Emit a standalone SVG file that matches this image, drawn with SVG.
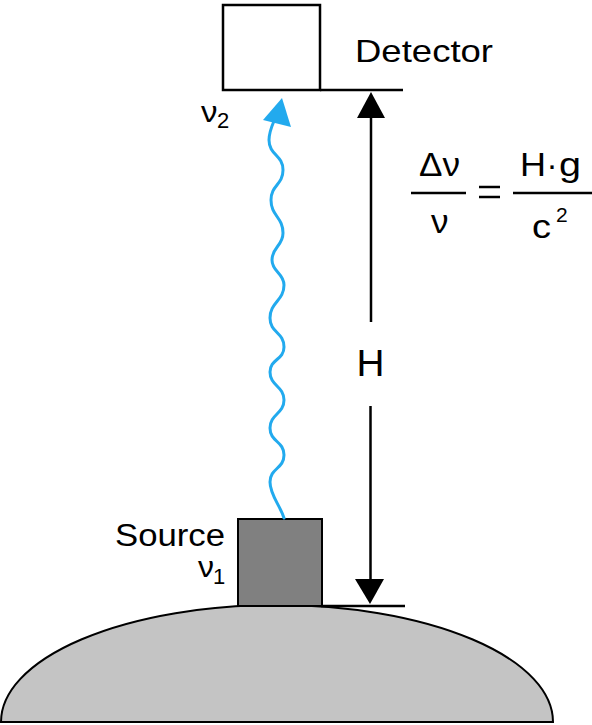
<svg xmlns="http://www.w3.org/2000/svg" width="592" height="725" viewBox="0 0 592 725">
<style>
text{font-family:"Liberation Sans",Arial,sans-serif;fill:#000}
.ln{stroke:#000;stroke-width:2.5;fill:none}
.wave{stroke:#22aaee;stroke-width:3;fill:none;stroke-linecap:round}
</style>
<rect width="592" height="725" fill="#fff"/>
<g id="earth">
<path d="M 1 722 A 276 117 0 0 1 553 722 Z" fill="#c4c4c4" stroke="#000" stroke-width="2"/>
</g>
<g id="source">
<rect x="238" y="519" width="84" height="87" fill="#808080" stroke="#000" stroke-width="2"/>
<text x="115" y="546" font-size="31" textLength="110" lengthAdjust="spacingAndGlyphs">Source</text>
<text x="198" y="577" font-size="29" textLength="16" lengthAdjust="spacingAndGlyphs">ν</text>
<text x="213" y="584" font-size="22">1</text>
</g>
<g id="detector">
<rect x="223" y="5" width="97" height="85" fill="#fff" stroke="#000" stroke-width="2.5"/>
<text x="355" y="62" font-size="32" textLength="138" lengthAdjust="spacingAndGlyphs">Detector</text>
<text x="201" y="122" font-size="29" textLength="16.5" lengthAdjust="spacingAndGlyphs">ν</text>
<text x="217" y="128" font-size="22">2</text>
</g>
<g id="formula">
<text x="419" y="176" font-size="33" textLength="41" lengthAdjust="spacingAndGlyphs">Δν</text>
<line class="ln" x1="411" y1="193" x2="466" y2="193"/>
<text x="431" y="233" font-size="33" textLength="17.5" lengthAdjust="spacingAndGlyphs">ν</text>
<line class="ln" x1="479" y1="187" x2="500" y2="187"/>
<line class="ln" x1="479" y1="197" x2="500" y2="197"/>
<text x="520" y="176" font-size="33" textLength="26" lengthAdjust="spacingAndGlyphs">H</text>
<text x="552" y="176" font-size="33" text-anchor="middle">·</text>
<text x="559" y="176" font-size="33" textLength="22" lengthAdjust="spacingAndGlyphs">g</text>
<line class="ln" x1="513" y1="193" x2="592" y2="193"/>
<text x="532" y="238" font-size="34" textLength="19" lengthAdjust="spacingAndGlyphs">c</text>
<text x="556" y="221.5" font-size="21">2</text>
</g>
<g id="connectors">
<line class="ln" x1="320" y1="90" x2="403" y2="90"/>
<line class="ln" x1="321" y1="606" x2="405" y2="606"/>
<line class="ln" x1="371" y1="116" x2="371" y2="322"/>
<line class="ln" x1="370.5" y1="406" x2="370.5" y2="581"/>
<polygon points="371,92 357,118 385,118" fill="#000"/>
<polygon points="370,604 355,579 384,579" fill="#000"/>
<text x="370.5" y="376" font-size="37" text-anchor="middle" textLength="28" lengthAdjust="spacingAndGlyphs">H</text>
<path class="wave" d="M 284 518 C 280 505 270 495 270 482 C 270 468 284 469 284 455 C 284 441 270 442 270 428 C 270 414 284 414 284 400 C 284 386 270 386 270 372 C 270 359 284 360 284 347 C 284 332 270 333 270 318 C 270 302 284 301 284 285 C 284 273 272 272 272 260 C 272 247 283 246 283 233 C 283 217 271 216 271 200 C 271 185 283 185 283 170 C 283 155 269 155 269 140 C 269 133 271 128 274 121"/>
<polygon points="282,98 263,120 291,127" fill="#22aaee"/>
</g>
</svg>
